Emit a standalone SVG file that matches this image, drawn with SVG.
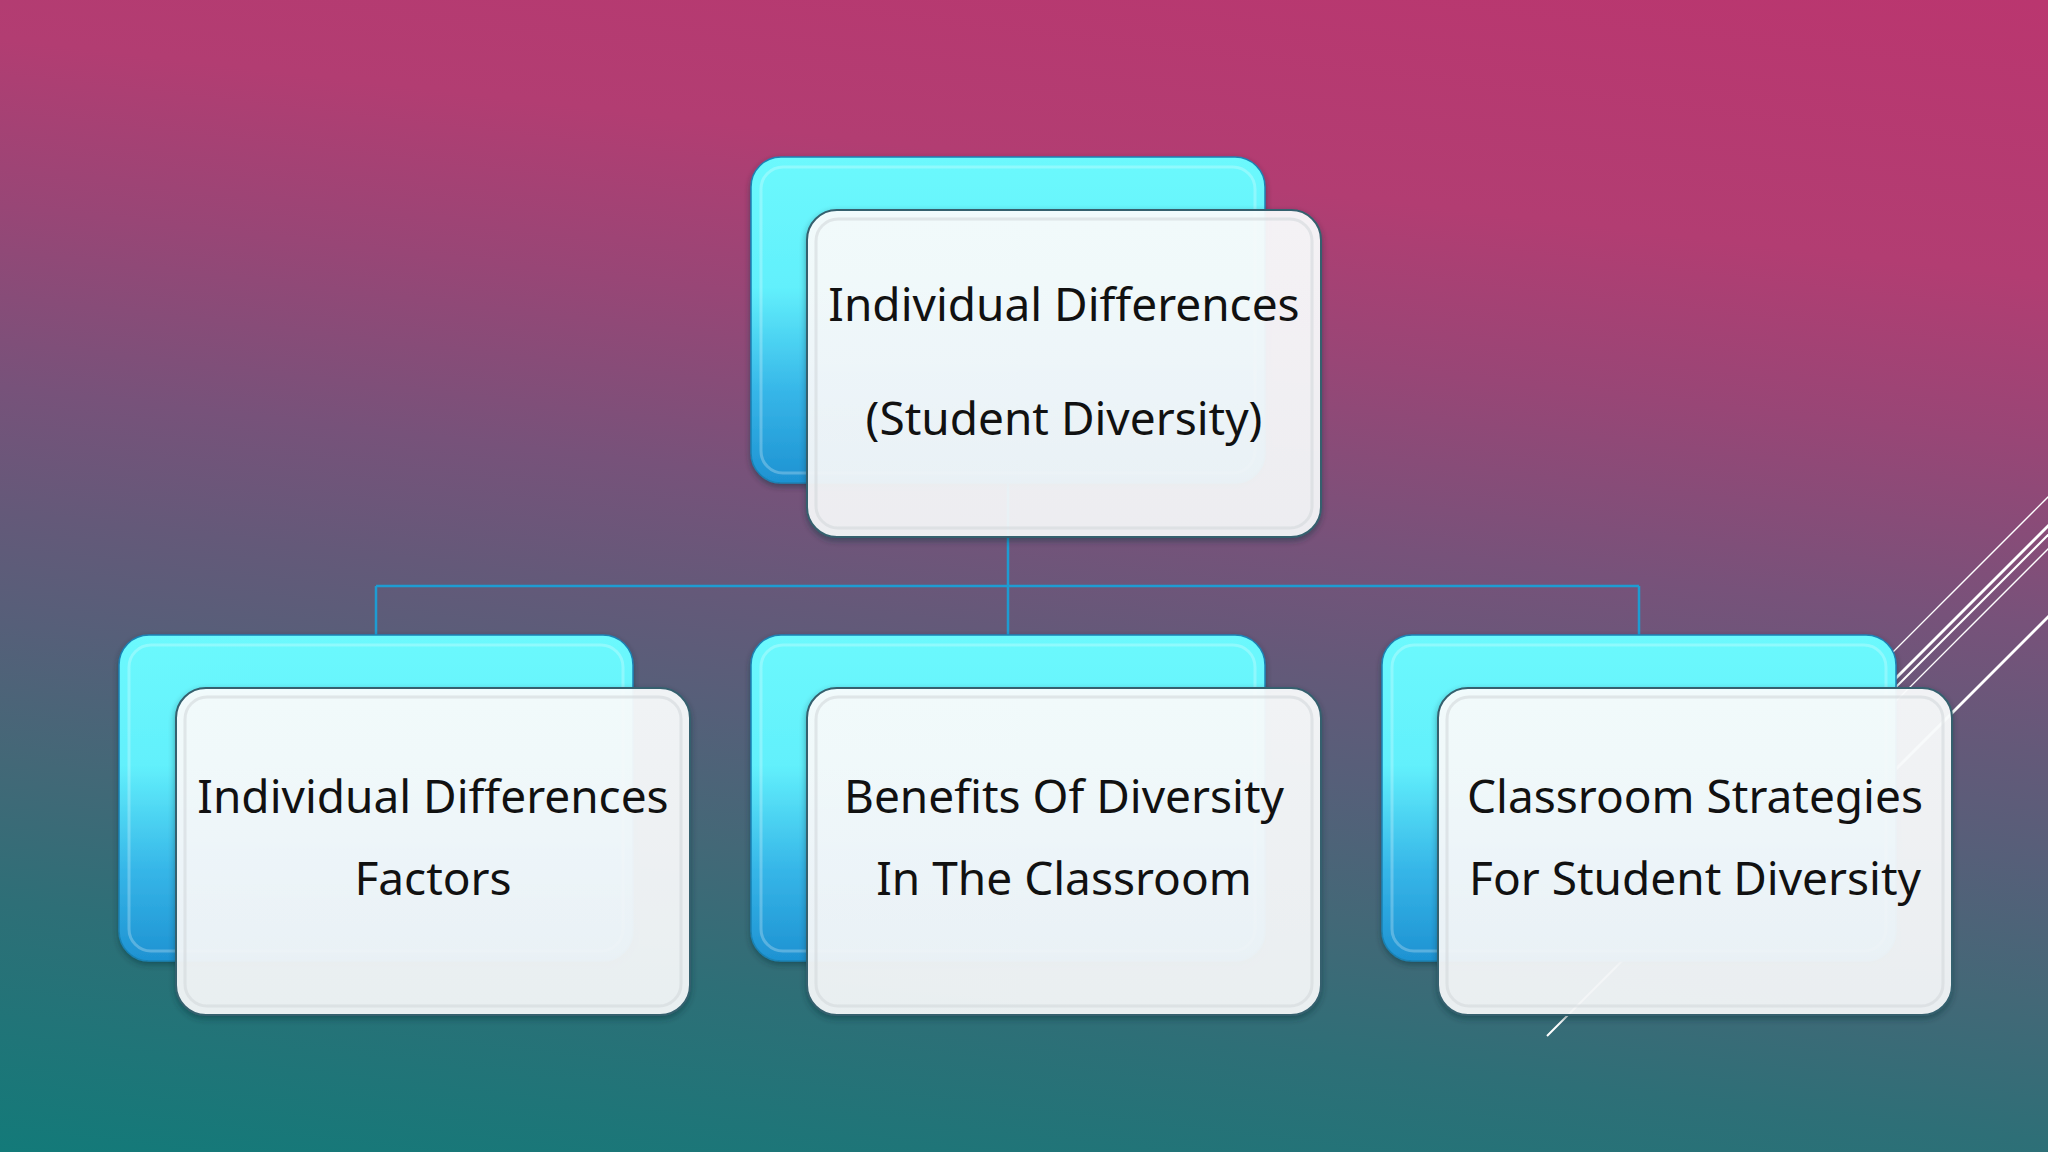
<svg xmlns="http://www.w3.org/2000/svg" width="2048" height="1152" viewBox="0 0 2048 1152">
<defs>
  <linearGradient id="bg" gradientUnits="userSpaceOnUse" x1="2048" y1="0" x2="1887" y2="1373">
    <stop offset="0" stop-color="#ba366f"/>
    <stop offset="0.2" stop-color="#b23d72"/>
    <stop offset="0.32" stop-color="#984676"/>
    <stop offset="0.45" stop-color="#77527a"/>
    <stop offset="0.54" stop-color="#645979"/>
    <stop offset="0.62" stop-color="#565f79"/>
    <stop offset="0.72" stop-color="#436877"/>
    <stop offset="0.82" stop-color="#2e6f77"/>
    <stop offset="1" stop-color="#137a79"/>
  </linearGradient>
  <linearGradient id="backG" x1="0" y1="0" x2="0" y2="1">
    <stop offset="0" stop-color="#6cf9fd"/>
    <stop offset="0.4" stop-color="#62f0fc"/>
    <stop offset="0.72" stop-color="#36b6e8"/>
    <stop offset="1" stop-color="#1e92d2"/>
  </linearGradient>
  <linearGradient id="frontG" x1="0" y1="0" x2="0" y2="1">
    <stop offset="0" stop-color="#fcfeff"/>
    <stop offset="1" stop-color="#f6f8fa"/>
  </linearGradient>
  <filter id="sh" x="-10%" y="-10%" width="120%" height="125%">
    <feDropShadow dx="0" dy="3" stdDeviation="3" flood-color="#0b2a35" flood-opacity="0.45"/>
  </filter>
</defs>
<style>
  .back { fill: url(#backG); stroke: #1a83b5; stroke-width: 1.5; }
  .backHi { fill: none; stroke: #ffffff; stroke-opacity: 0.25; stroke-width: 3; }
  .front { fill: url(#frontG); fill-opacity: 0.92; stroke: #34606e; stroke-width: 2; }
  .frontIn { fill: none; stroke: #d3d8dc; stroke-width: 3; stroke-opacity: 0.6; }
  .lbl { font-family: "Noto Sans", "Open Sans", "DejaVu Sans", sans-serif; font-size: 46px; fill: #111111; text-anchor: middle; }
  .conn { stroke: #1e9cd2; stroke-width: 2.5; fill: none; }
  .deco { stroke: #ffffff; fill: none; }
</style>

<rect x="0" y="0" width="2048" height="1152" fill="url(#bg)"/>

<g id="decoration">
  <line class="deco" x1="2100" y1="445" x2="1700" y2="845" stroke-width="1.3"/>
  <line class="deco" x1="2100" y1="474" x2="1700" y2="874" stroke-width="2.8"/>
  <line class="deco" x1="2100" y1="483" x2="1547" y2="1036" stroke-width="2"/>
  <line class="deco" x1="2100" y1="497" x2="1700" y2="897" stroke-width="1.3"/>
  <line class="deco" x1="2100" y1="565" x2="1800" y2="865" stroke-width="2.8"/>
</g>

<g id="connectors">
  <line class="conn" x1="1008" y1="483" x2="1008" y2="586"/>
  <line class="conn" x1="376" y1="586" x2="1639" y2="586"/>
  <line class="conn" x1="376" y1="586" x2="376" y2="635"/>
  <line class="conn" x1="1008" y1="586" x2="1008" y2="635"/>
  <line class="conn" x1="1639" y1="586" x2="1639" y2="635"/>
</g>

<g id="node-root">
  <rect class="back" x="751" y="157" width="514" height="326" rx="30" filter="url(#sh)"/>
  <rect class="backHi" x="761" y="167" width="494" height="306" rx="22"/>
  <rect class="front" x="807" y="210" width="514" height="327" rx="30" filter="url(#sh)"/>
  <rect class="frontIn" x="816" y="219" width="496" height="309" rx="22"/>
  <text class="lbl" x="1064" y="321">Individual Differences</text>
  <text class="lbl" x="1064" y="435">(Student Diversity)</text>
</g>

<g id="node-factors">
  <rect class="back" x="119" y="635" width="514" height="326" rx="30" filter="url(#sh)"/>
  <rect class="backHi" x="129" y="645" width="494" height="306" rx="22"/>
  <rect class="front" x="176" y="688" width="514" height="327" rx="30" filter="url(#sh)"/>
  <rect class="frontIn" x="185" y="697" width="496" height="309" rx="22"/>
  <text class="lbl" x="433" y="813">Individual Differences</text>
  <text class="lbl" x="433" y="895">Factors</text>
</g>

<g id="node-benefits">
  <rect class="back" x="751" y="635" width="514" height="326" rx="30" filter="url(#sh)"/>
  <rect class="backHi" x="761" y="645" width="494" height="306" rx="22"/>
  <rect class="front" x="807" y="688" width="514" height="327" rx="30" filter="url(#sh)"/>
  <rect class="frontIn" x="816" y="697" width="496" height="309" rx="22"/>
  <text class="lbl" x="1064" y="813">Benefits Of Diversity</text>
  <text class="lbl" x="1064" y="895">In The Classroom</text>
</g>

<g id="node-strategies">
  <rect class="back" x="1382" y="635" width="514" height="326" rx="30" filter="url(#sh)"/>
  <rect class="backHi" x="1392" y="645" width="494" height="306" rx="22"/>
  <rect class="front" x="1438" y="688" width="514" height="327" rx="30" filter="url(#sh)"/>
  <rect class="frontIn" x="1447" y="697" width="496" height="309" rx="22"/>
  <text class="lbl" x="1695" y="813">Classroom Strategies</text>
  <text class="lbl" x="1695" y="895">For Student Diversity</text>
</g>
</svg>
